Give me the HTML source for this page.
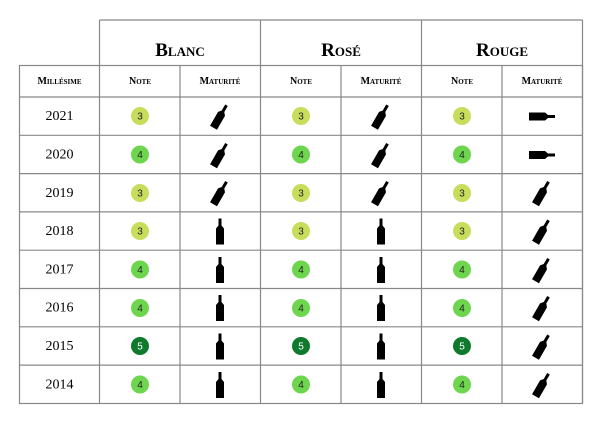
<!DOCTYPE html>
<html><head><meta charset="utf-8"><style>
html,body{margin:0;padding:0;background:#fff;}
svg{display:block;}
text{font-family:"Liberation Serif",serif;}
text.n{font-family:"Liberation Sans",sans-serif;font-size:10px;}
</style></head><body>
<svg width="600" height="424" viewBox="0 0 600 424" xmlns="http://www.w3.org/2000/svg">
<defs>
<path id="b" d="M-4,13 L-4,-3 L-1.5,-6 L-1.5,-13 L1.5,-13 L1.5,-6 L4,-3 L4,13 Z" fill="#000"/>
</defs>
<g stroke="#888" stroke-width="1.2" fill="none">
<rect x="19.5" y="65.5" width="563" height="338"/>
<line x1="99.5" y1="20" x2="582.5" y2="20"/>
<line x1="99.5" y1="20" x2="99.5" y2="403.5"/>
<line x1="260.5" y1="20" x2="260.5" y2="403.5"/>
<line x1="421.5" y1="20" x2="421.5" y2="403.5"/>
<line x1="582.5" y1="20" x2="582.5" y2="403.5"/>
<line x1="180" y1="65.5" x2="180" y2="403.5"/>
<line x1="341" y1="65.5" x2="341" y2="403.5"/>
<line x1="502" y1="65.5" x2="502" y2="403.5"/>
<line x1="19.5" y1="97" x2="582.5" y2="97"/>
<line x1="19.5" y1="135.3" x2="582.5" y2="135.3"/>
<line x1="19.5" y1="173.6" x2="582.5" y2="173.6"/>
<line x1="19.5" y1="211.9" x2="582.5" y2="211.9"/>
<line x1="19.5" y1="250.2" x2="582.5" y2="250.2"/>
<line x1="19.5" y1="288.5" x2="582.5" y2="288.5"/>
<line x1="19.5" y1="326.8" x2="582.5" y2="326.8"/>
<line x1="19.5" y1="365.1" x2="582.5" y2="365.1"/>
</g>
<g font-size="19" font-weight="bold" text-anchor="middle" style="font-variant:small-caps">
<text x="180" y="56">Blanc</text>
<text x="341" y="56">Rosé</text>
<text x="502" y="56">Rouge</text>
</g>
<g font-size="10" font-weight="bold" text-anchor="middle" style="font-variant:small-caps">
<text x="59.5" y="84">Millésime</text>
<text x="140" y="84">Note</text><text x="220" y="84">Maturité</text>
<text x="301" y="84">Note</text><text x="381" y="84">Maturité</text>
<text x="462" y="84">Note</text><text x="542" y="84">Maturité</text>
</g>
<g font-size="14" text-anchor="middle">
<text x="59.5" y="120">2021</text><text x="59.5" y="158.5">2020</text><text x="59.5" y="197">2019</text><text x="59.5" y="235">2018</text>
<text x="59.5" y="273.5">2017</text><text x="59.5" y="311.5">2016</text><text x="59.5" y="350">2015</text><text x="59.5" y="388.5">2014</text>
</g>
<g text-anchor="middle">
<g fill="#c8dd5c"><circle cx="140" cy="116" r="9"/><circle cx="301" cy="116" r="9"/><circle cx="462" cy="116" r="9"/>
<circle cx="140" cy="193" r="9"/><circle cx="301" cy="193" r="9"/><circle cx="462" cy="193" r="9"/>
<circle cx="140" cy="231" r="9"/><circle cx="301" cy="231" r="9"/><circle cx="462" cy="231" r="9"/></g>
<g fill="#6ed64e"><circle cx="140" cy="154.5" r="9"/><circle cx="301" cy="154.5" r="9"/><circle cx="462" cy="154.5" r="9"/>
<circle cx="140" cy="269.5" r="9"/><circle cx="301" cy="269.5" r="9"/><circle cx="462" cy="269.5" r="9"/>
<circle cx="140" cy="308" r="9"/><circle cx="301" cy="308" r="9"/><circle cx="462" cy="308" r="9"/>
<circle cx="140" cy="384.5" r="9"/><circle cx="301" cy="384.5" r="9"/><circle cx="462" cy="384.5" r="9"/></g>
<g fill="#0f7a2c"><circle cx="140" cy="346" r="9"/><circle cx="301" cy="346" r="9"/><circle cx="462" cy="346" r="9"/></g>
<g fill="#222">
<text class="n" x="140" y="119.5">3</text><text class="n" x="301" y="119.5">3</text><text class="n" x="462" y="119.5">3</text>
<text class="n" x="140" y="158">4</text><text class="n" x="301" y="158">4</text><text class="n" x="462" y="158">4</text>
<text class="n" x="140" y="196.5">3</text><text class="n" x="301" y="196.5">3</text><text class="n" x="462" y="196.5">3</text>
<text class="n" x="140" y="234.5">3</text><text class="n" x="301" y="234.5">3</text><text class="n" x="462" y="234.5">3</text>
<text class="n" x="140" y="273">4</text><text class="n" x="301" y="273">4</text><text class="n" x="462" y="273">4</text>
<text class="n" x="140" y="311.5">4</text><text class="n" x="301" y="311.5">4</text><text class="n" x="462" y="311.5">4</text>
<text class="n" x="140" y="388">4</text><text class="n" x="301" y="388">4</text><text class="n" x="462" y="388">4</text>
</g>
<g fill="#fff"><text class="n" x="140" y="349.5">5</text><text class="n" x="301" y="349.5">5</text><text class="n" x="462" y="349.5">5</text></g>
</g>
<use href="#b" transform="translate(220,116.5) rotate(30)"/>
<use href="#b" transform="translate(381,116.5) rotate(30)"/>
<use href="#b" transform="translate(542,116.5) rotate(90)"/>
<use href="#b" transform="translate(220,155) rotate(30)"/>
<use href="#b" transform="translate(381,155) rotate(30)"/>
<use href="#b" transform="translate(542,155) rotate(90)"/>
<use href="#b" transform="translate(220,193) rotate(30)"/>
<use href="#b" transform="translate(381,193) rotate(30)"/>
<use href="#b" transform="translate(542,193) rotate(30)"/>
<use href="#b" transform="translate(220,231.5)"/>
<use href="#b" transform="translate(381,231.5)"/>
<use href="#b" transform="translate(542,231.5) rotate(30)"/>
<use href="#b" transform="translate(220,270)"/>
<use href="#b" transform="translate(381,270)"/>
<use href="#b" transform="translate(542,270) rotate(30)"/>
<use href="#b" transform="translate(220,308)"/>
<use href="#b" transform="translate(381,308)"/>
<use href="#b" transform="translate(542,308) rotate(30)"/>
<use href="#b" transform="translate(220,346.5)"/>
<use href="#b" transform="translate(381,346.5)"/>
<use href="#b" transform="translate(542,346.5) rotate(30)"/>
<use href="#b" transform="translate(220,385)"/>
<use href="#b" transform="translate(381,385)"/>
<use href="#b" transform="translate(542,385) rotate(30)"/>
</svg>
</body></html>
